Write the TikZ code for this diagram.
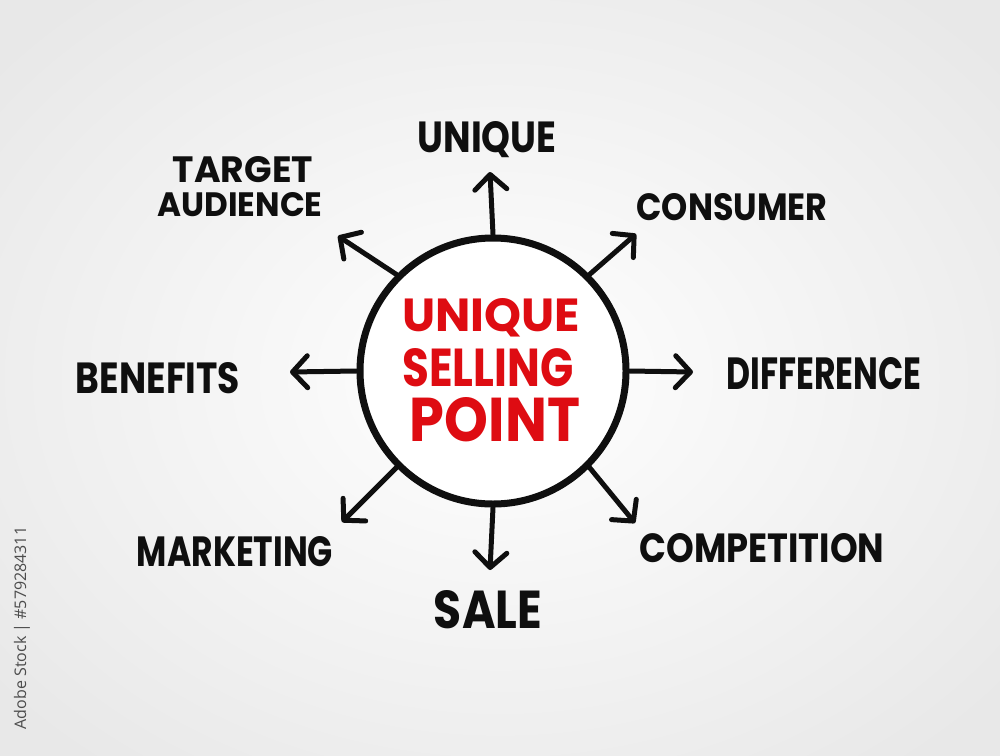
\documentclass[tikz,border=0pt]{standalone}
\usepackage{fontspec}
\setmainfont{Poppins}
\newfontfamily\wmfont{Open Sans}
\usetikzlibrary{arrows.meta}
\newcommand{\fitlbl}[3]{\resizebox{#1pt}{#2pt}{#3}}
\definecolor{uspred}{RGB}{222,12,18}
\definecolor{ink}{RGB}{15,15,15}
\begin{document}
\begin{tikzpicture}[x=1pt,y=-1pt,
  spoke/.style={draw=ink, line width=5pt, line cap=round,
    -{Straight Barb[length=15pt,width=32pt,line width=5pt,line cap=round,line join=round]}},
  lbl/.style={inner sep=0pt, text=ink, font=\bfseries},
  core/.style={inner sep=0pt, text=uspred, font=\bfseries}]
\useasboundingbox (0,0) rectangle (1000,755);
\shade[inner color=white, outer color=black!9] (-150,-120) rectangle (1150,875);
% central circle
\node[circle, draw=ink, line width=7pt, fill=white, minimum size=266pt, inner sep=0pt] (c) at (493,371) {};
\node[core] (t1) at (491,318) {\fitlbl{178}{33}{UNIQUE}};
\node[core] (t2) at (488,368) {\fitlbl{171}{38}{SELLING}};
\node[core] (t3) at (495,420) {\fitlbl{170}{44}{POINT}};
% arrow tips
\coordinate (pU)  at (490,172);
\coordinate (pD)  at (490,570);
\coordinate (pL)  at (290,372);
\coordinate (pR)  at (693,372);
\coordinate (pUL) at (338,236);
\coordinate (pUR) at (636,234);
\coordinate (pLL) at (342,522);
\coordinate (pLR) at (635,523);
\draw[spoke] (c.north) -- (pU);
\draw[spoke] (c.south) -- (pD);
\draw[spoke] (c.west) -- (pL);
\draw[spoke] (c.east) -- (pR);
\draw[spoke] (c.135) -- (pUL);
\draw[spoke] (c.45) -- (pUR);
\draw[spoke] (c.225) -- (pLL);
\draw[spoke] (c.-45) -- (pLR);
% labels
\node[lbl] (lU) at (487,140) {\fitlbl{139}{31}{UNIQUE}};
\node[lbl] (lT1) at (243,170) {\fitlbl{140}{26}{TARGET}};
\node[lbl] (lT2) at (240,205) {\fitlbl{165}{24}{AUDIENCE}};
\node[lbl] (lC) at (732,207) {\fitlbl{191}{27}{CONSUMER}};
\node[lbl] (lB) at (158,378) {\fitlbl{164}{31}{BENEFITS}};
\node[lbl] (lD) at (824,374) {\fitlbl{195}{32}{DIFFERENCE}};
\node[lbl] (lM) at (235,552) {\fitlbl{196}{30}{MARKETING}};
\node[lbl] (lCo) at (762,548) {\fitlbl{245}{29}{COMPETITION}};
\node[lbl] (lS) at (488,610) {\fitlbl{108}{38}{SALE}};
% side credit
\node[rotate=90, font=\wmfont\fontsize{16}{16}\selectfont, text=black!70, inner sep=0pt] (wm) at (22,628) {Adobe Stock | \#579284311};
\end{tikzpicture}
\end{document}
